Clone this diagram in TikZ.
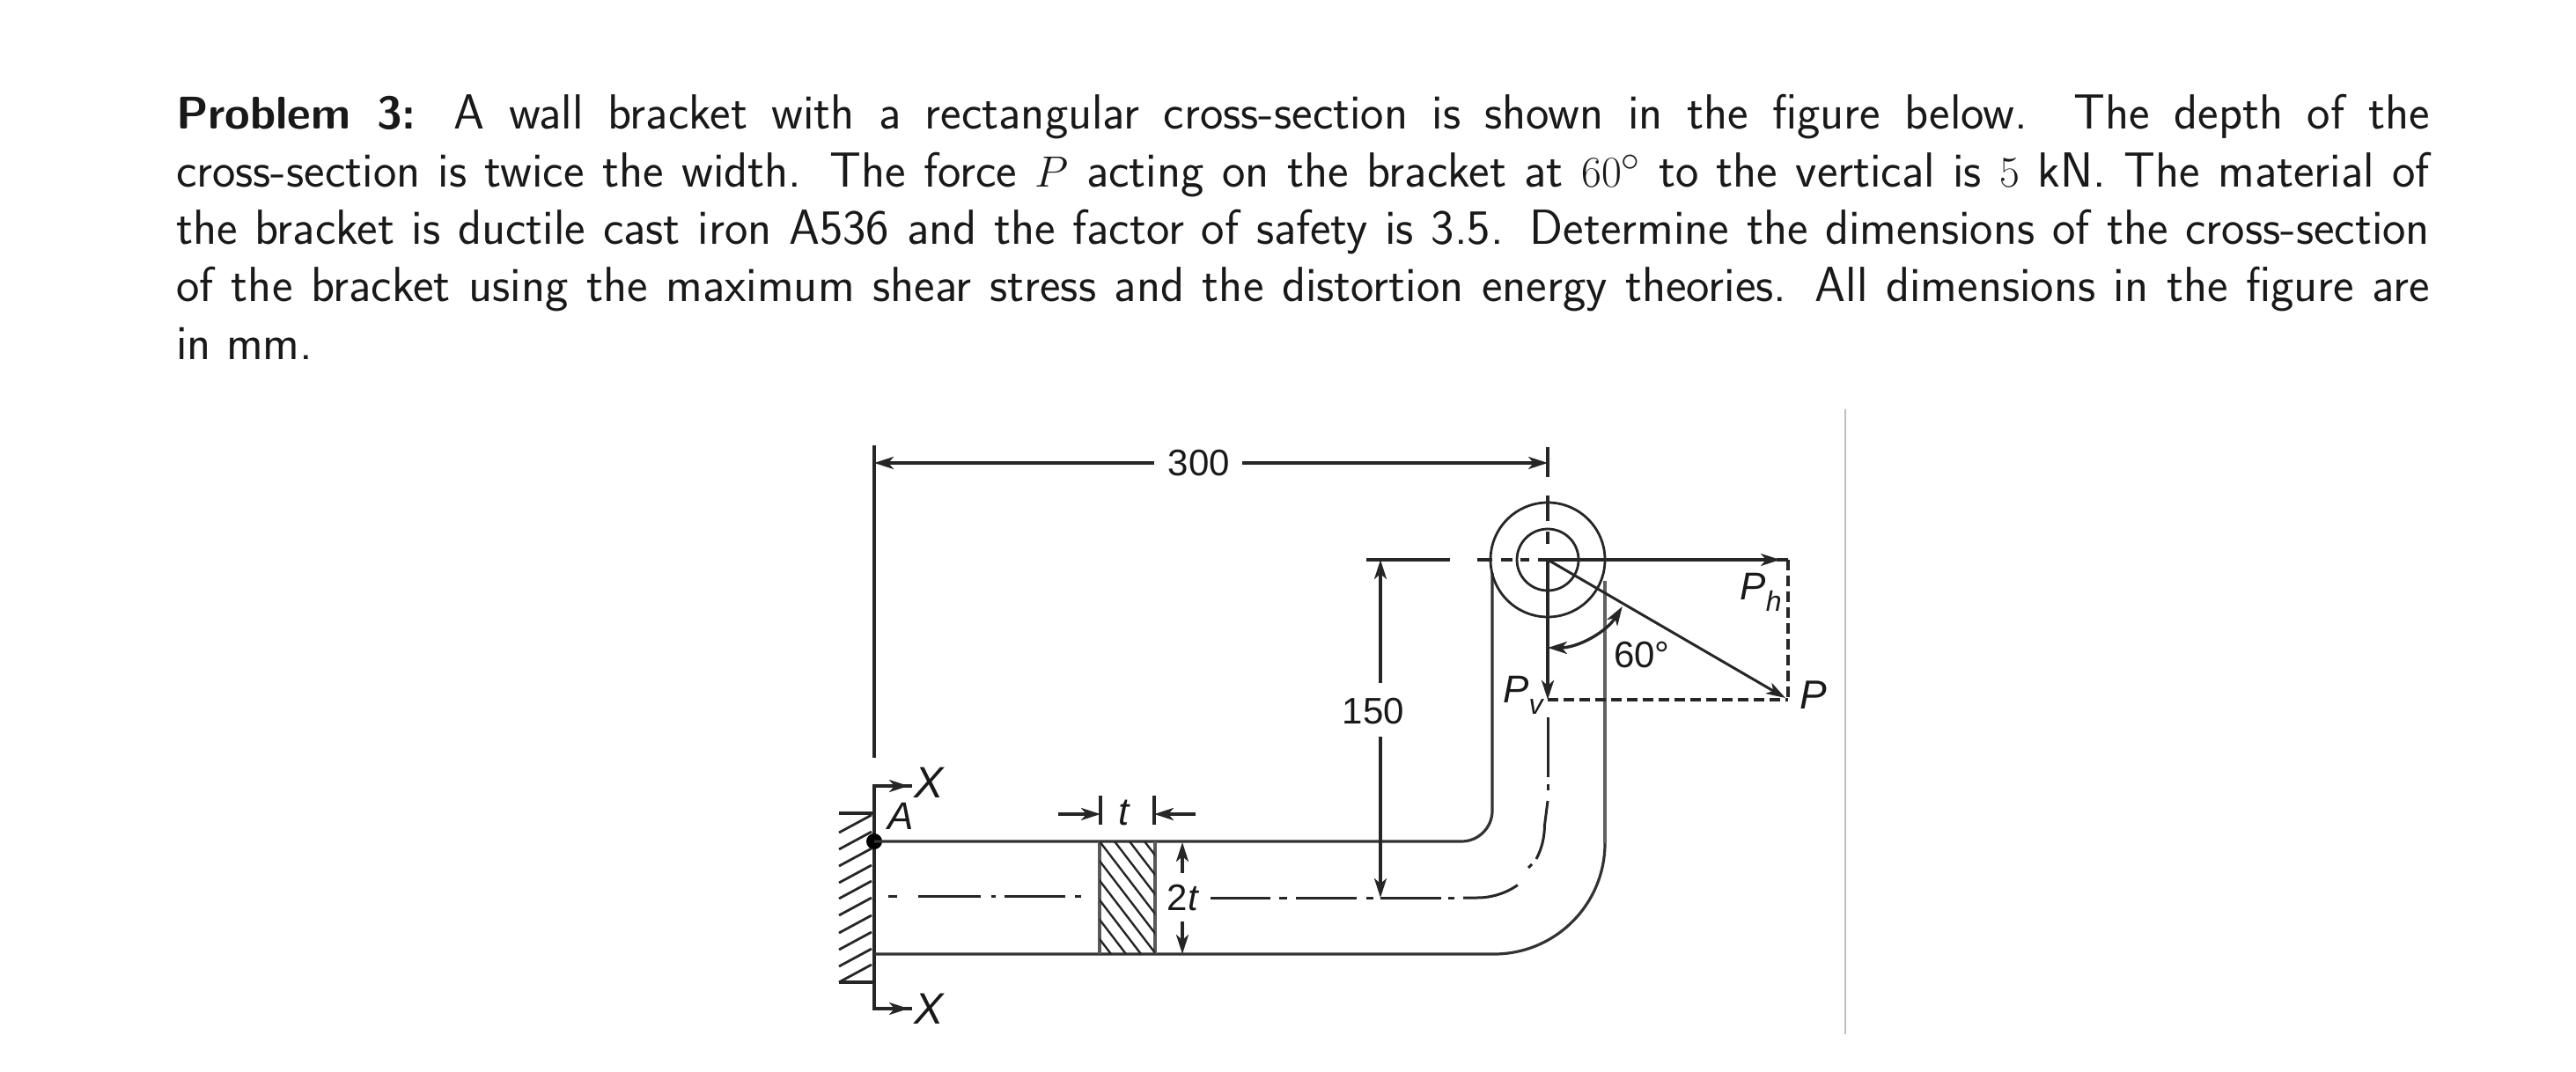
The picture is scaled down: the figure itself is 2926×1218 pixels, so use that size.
\documentclass[tikz,border=0pt]{standalone}
\usepackage{fontspec}
\usetikzlibrary{arrows.meta}
\newfontfamily\figfont{Liberation Sans}
\tikzset{
  txt/.style={anchor=base west,inner sep=0pt,outer sep=0pt,font=\fontsize{28}{32}\selectfont\sffamily,text=black!90},
  lab/.style={inner sep=0pt,outer sep=0pt,font=\fontsize{21}{24}\selectfont\figfont,text=black!90},
  ln/.style={line width=1.7pt,color=black!85},
  thin ln/.style={line width=1.4pt,color=black!85},
  tip/.style={-{Stealth[length=11pt,width=7pt,inset=3pt]}},
  tips/.style={{Stealth[length=11pt,width=7pt,inset=3pt]}-{Stealth[length=11pt,width=7pt,inset=3pt]}},
  cdash/.style={line width=1.5pt,color=black!85},
  dsh/.style={line width=1.8pt,color=black!85,dash pattern=on 6pt off 3pt}
}
\newcommand{\lineto}[1]{\makebox[1280pt][s]{#1}}
\begin{document}
\begin{tikzpicture}[x=0.5pt,y=-0.5pt]
\useasboundingbox (0,0) rectangle (2926,1218);
% text
\node[txt] (l1) at (200,147) {\lineto{{\fontsize{26}{32}\selectfont\textbf{Problem 3:}} A wall bracket with a rectangular cross-section is shown in the figure below. The depth of the}};
\node[txt] (l2) at (200,213) {\lineto{cross-section is twice the width. The force $P$ acting on the bracket at $60^\circ$ to the vertical is $5$ kN. The material of}};
\node[txt] (l3) at (200,278) {\lineto{the bracket is ductile cast iron A536 and the factor of safety is 3.5. Determine the dimensions of the cross-section}};
\node[txt] (l4) at (200,343) {\lineto{of the bracket using the maximum shear stress and the distortion energy theories. All dimensions in the figure are}};
\node[txt] (l5) at (200,409) {in mm.};
% named points
\coordinate (C) at (1758,636);
\coordinate (P) at (2031,795);
\coordinate (Pv) at (1758,795);
\coordinate (Ph) at (2031,636);
% grey rule
\draw[line width=1.2pt,color=black!25] (2096,465) -- (2096,1175);
% 300 dimension
\draw[ln] (993,506) -- (993,861);
\draw[ln] (1758,508) -- (1758,542);
\node[lab] (d300) at (1362,526) {300};
\draw[ln,tip] (1311,526) -- (993,526);
\draw[ln,tip] (1411,526) -- (1758,526);
% section plane
\draw[ln] (1036,893) -- (993,893) -- (993,1146) -- (1036,1146);
\draw[ln,tip] (993,893) -- (1032,893);
\draw[ln,tip] (993,1146) -- (1032,1146);
\node[lab,font=\fontsize{25}{25}\selectfont\figfont\itshape] (x1) at (1055,889) {X};
\node[lab,font=\fontsize{25}{25}\selectfont\figfont\itshape] (x2) at (1055,1146) {X};
\node[lab,font=\fontsize{22}{22}\selectfont\figfont\itshape] (A) at (1023,927) {A};
% wall
\draw[ln] (953,924) -- (993,924);
\draw[ln] (953,1116) -- (993,1116);
\foreach \y in {946,965,984,1003,1021,1040,1060,1079,1098,1116}
  \draw[thin ln] (953,\y) -- (990,\y-20);
\fill[black] (993,956) circle[radius=9];
% bracket outline
\draw[line width=1.6pt,color=black!80] (993,956) -- (1660,956) arc[start angle=90,end angle=0,radius=35] -- (1695,651);
\draw[line width=1.6pt,color=black!80] (993,1084) -- (1697,1084) arc[start angle=90,end angle=0,radius=126];
\draw[line width=2.2pt,color=black!62] (1823,958) -- (1823,660);
% section
\draw[line width=2.4pt,color=black!65] (1249,956) -- (1249,1084) (1312,956) -- (1312,1084);
\begin{scope}
\clip (1249,956) rectangle (1312,1084);
\foreach \i in {-153,-136,...,51}
  \draw[line width=1.2pt,color=black!85] (1249+\i,956) -- (1249+\i+98,1084);
\end{scope}
% t dim
\draw[ln] (1250,904) -- (1250,937);
\draw[ln] (1311,904) -- (1311,937);
\draw[ln,tip] (1202,925) -- (1250,925);
\draw[ln,tip] (1358,925) -- (1311,925);
\node[lab,font=\fontsize{22}{22}\selectfont\figfont\itshape] (t) at (1277,923) {t};
% 2t dim
\node[lab] (tt) at (1344,1020) {2\textit{t}};
\draw[ln,tip] (1343,992) -- (1343,957);
\draw[ln,tip] (1343,1047) -- (1343,1084);
% centre line
\draw[cdash] (1009,1018) -- (1019,1018) (1043,1018) -- (1114,1018) (1126,1018) -- (1131,1018) (1141,1018) -- (1210,1018) (1221,1018) -- (1228,1018);
\draw[cdash] (1375,1020) -- (1443,1020) (1453,1020) -- (1462,1020) (1472,1020) -- (1541,1020) (1552,1020) -- (1560,1020) (1568,1020) -- (1637,1020) (1645,1020) -- (1652,1020);
\draw[cdash] (1662,1020) -- (1678,1020) arc[start angle=90,end angle=55,radius=80];
\draw[cdash] (1736,986) -- (1740,982);
\draw[cdash] (1745,976) arc[start angle=28,end angle=0,radius=80] -- (1758,910);
\draw[cdash] (1758,898) -- (1758,891);
\draw[cdash] (1758,883) -- (1758,815);
\draw[ln] (1758,563) -- (1758,592) (1758,604) -- (1758,618);
\draw[ln] (1552,636) -- (1647,636) (1678,636) -- (1695,636) (1705,636) -- (1718,636) (1727,636) -- (1737,636) (1747,636) -- (1758,636);
% collar
\node[circle,draw,line width=1.4pt,color=black!85,minimum size=65pt,inner sep=0pt,outer sep=0pt] (outer) at (C) {};
\node[circle,draw,line width=1.4pt,color=black!85,minimum size=35pt,inner sep=0pt,outer sep=0pt] (inner) at (C) {};
% forces
\draw[ln,tip] (C) -- (2022,636);
\draw[ln] (2018,636) -- (Ph);
\draw[line width=2pt,color=black!85,tip] (C) -- (Pv);
\draw[line width=1.5pt,color=black!85,tip] (C) -- (2028,793);
\draw[dsh] (Ph) -- (P);
\draw[dsh] (Pv) -- (P);
\node[lab,font=\fontsize{22}{22}\selectfont\figfont\itshape] (ph) at (2000,673) {P\raisebox{-0.3em}{\fontsize{16}{16}\selectfont h}};
\node[lab,font=\fontsize{22}{22}\selectfont\figfont\itshape] (pv) at (1730,790) {P\raisebox{-0.3em}{\fontsize{16}{16}\selectfont v}};
\node[lab,font=\fontsize{23}{23}\selectfont\figfont\itshape] (p) at (2060,790) {P};
% 60 deg
\draw[ln,tips] (1758,736) arc[start angle=90,end angle=32,radius=100];
\node[lab] (ang) at (1865,744) {60°};
% 150 dim
\node[lab] (d150) at (1560,808) {150};
\draw[ln,tip] (1568,776) -- (1568,636);
\draw[ln,tip] (1568,837) -- (1568,1020);
\end{tikzpicture}
\end{document}
